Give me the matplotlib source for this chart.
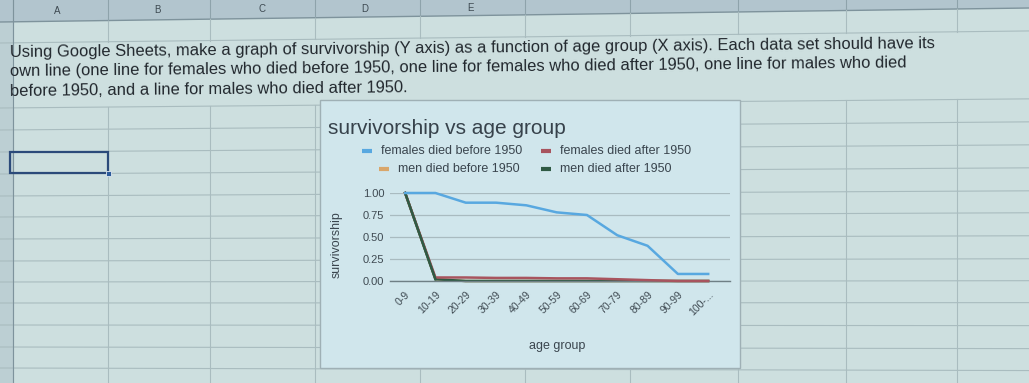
import matplotlib
matplotlib.use("Agg")
import matplotlib.pyplot as plt
from matplotlib.patches import Rectangle, Polygon
import numpy as np

# ---------------- data ----------------
age_groups = ["0-9", "10-19", "20-29", "30-39", "40-49", "50-59",
              "60-69", "70-79", "80-89", "90-99", "100-..."]
females_before_1950 = [1.0, 1.0, 0.89, 0.89, 0.86, 0.78, 0.75, 0.52, 0.40, 0.08, 0.08]
females_after_1950 = [1.0, 0.04, 0.04, 0.035, 0.035, 0.03, 0.03, 0.02, 0.01, 0.0, 0.0]
men_before_1950 = [1.0, 0.02, 0.0, 0.0, 0.0, 0.0, 0.0, 0.0, 0.0, 0.0, 0.0]
men_after_1950 = [1.0, 0.02, 0.0, 0.0, 0.0, 0.0, 0.0, 0.0, 0.0, 0.0, 0.0]
y_ticks = [0.0, 0.25, 0.5, 0.75, 1.0]
series_names = ["females died before 1950", "females died after 1950",
                "men died before 1950", "men died after 1950"]
col_letters = ["A", "B", "C", "D", "E"]
instruction = ["Using Google Sheets, make a graph of survivorship (Y axis) as a function of age group (X axis). Each data set should have its",
               "own line (one line for females who died before 1950, one line for females who died after 1950, one line for males who died",
               "before 1950, and a line for males who died after 1950."]

colors = {"fb": "#58a8e0", "fa": "#a8545e", "mb": "#d9a66a", "ma": "#2f5a44"}
sheet_bg = "#cddfdf"
chart_bg = "#d0e6ec"
grid_c = "#a9bcbf"

W, H = 1029, 383
fig = plt.figure(figsize=(W / 100, H / 100), dpi=100)
fig.patch.set_facecolor(sheet_bg)
plt.rcParams['font.family'] = ['Liberation Sans', 'DejaVu Sans']

# ---------------- spreadsheet background ----------------
bg = fig.add_axes([0, 0, 1, 1])
bg.set_xlim(0, W)
bg.set_ylim(H, 0)
bg.axis("off")
bg.set_facecolor(sheet_bg)


def tilt(y):
    return 14 - 0.045 * y


bg.add_patch(Polygon([(0, 0), (W, 0), (W, 8), (0, 22)], closed=True,
                     facecolor="#b2c5ce", edgecolor="none", zorder=1))
bg.plot([0, W], [22, 8], color="#7e939c", lw=1.0, zorder=2)
bg.add_patch(Rectangle((0, 22), 13, H, facecolor="#bccfd3", edgecolor="none", zorder=1))

col_lines = [13, 108, 210, 315, 420, 525, 630, 738, 846, 957]
row_lines = [43, 108, 130, 152, 174, 196, 217, 239, 261, 282, 303, 325, 347, 368]
for y in row_lines:
    bg.plot([0, W], [y, y - tilt(y)], color=grid_c, lw=0.8, zorder=2)
for x in col_lines:
    bg.plot([x, x], [0, 22 - 14 * x / W], color="#8ea3ab", lw=0.8, zorder=2)
    bg.plot([x, x], [22 - 14 * x / W, 43 - tilt(43) * x / W], color=grid_c, lw=0.8, zorder=2)
    bg.plot([x, x], [108 - tilt(108) * x / W, H], color=grid_c, lw=0.8, zorder=2)
bg.plot([13, 13], [0, H], color="#7e939c", lw=0.8, zorder=2)

letter_x = [57, 157, 262, 365, 470]
for lx, letter in zip(letter_x, col_letters):
    bg.text(lx, 11 - 14 * lx / W * 0.5, letter, ha="center", va="center",
            fontsize=7, color="#3e4a52", zorder=3)

# instruction text (one multi-line block, slightly tilted like the photo)
bg.text(10, 72, "\n".join(instruction), ha="left", va="center", fontsize=11.9,
        linespacing=1.36, color="#22282e", rotation=0.55, rotation_mode="anchor",
        zorder=3)

# selected cell
bg.add_patch(Rectangle((10, 152), 98, 21, facecolor="none", edgecolor="#2b4a7a",
                       lw=1.6, zorder=4))
bg.add_patch(Rectangle((105.5, 170.5), 5, 5, facecolor="#2b5a9a", edgecolor="#dfe8f0",
                       lw=0.6, zorder=5))

# chart box
bg.add_patch(Rectangle((320, 100), 420, 268, facecolor=chart_bg, edgecolor="#9fb0b5",
                       lw=1.0, zorder=3))

# title
bg.text(328, 128, "survivorship vs age group", ha="left", va="center",
        fontsize=15, color="#37424b", zorder=5)

# legend (drawn manually to mimic the centred rows)
legend_items = [
    (367, 151, colors["fb"], series_names[0]),
    (546, 151, colors["fa"], series_names[1]),
    (384, 169, colors["mb"], series_names[2]),
    (546, 169, colors["ma"], series_names[3]),
]
for lx, ly, c, name in legend_items:
    bg.plot([lx - 5, lx + 5], [ly, ly], color=c, lw=3, solid_capstyle="butt", zorder=5)
    bg.text(lx + 14, ly, name, ha="left", va="center", fontsize=9.0,
            color="#3a454e", zorder=5)

# axis titles
bg.text(337, 245, "survivorship", rotation=90, ha="center", va="center",
        fontsize=8.9, color="#3a454e", zorder=5)
bg.text(557, 346, "age group", ha="center", va="center",
        fontsize=9, color="#3a454e", zorder=5)

# ---------------- chart ----------------
left, right = 390, 730
top, bottom = 193, 281
ax = fig.add_axes([left / W, (H - bottom) / H, (right - left) / W, (bottom - top) / H])
ax.set_facecolor("none")
ax.set_zorder(6)
x = np.arange(len(age_groups))
ax.set_xlim(-0.5, 10.72)
ax.set_ylim(0, 1)
ax.set_yticks(y_ticks)
ax.set_yticklabels([f"{v:.2f}" for v in y_ticks])
ax.grid(axis="y", color="#a9bbc0", lw=0.9)
ax.set_axisbelow(True)
for s in ["top", "right", "left"]:
    ax.spines[s].set_visible(False)
ax.spines["bottom"].set_color("#6f7f85")
ax.spines["bottom"].set_linewidth(1.0)
ax.tick_params(axis="both", length=0, labelsize=8, colors="#3f4a52", pad=4)
ax.set_xticks(x)
ax.set_xticklabels(age_groups, rotation=45, ha="right", va="top",
                   rotation_mode="anchor", fontsize=7.6)
ax.tick_params(axis="x", pad=6)

ax.plot(x, females_before_1950, color=colors["fb"], lw=1.8, clip_on=False, zorder=3)
ax.plot(x, men_before_1950, color=colors["mb"], lw=1.8, clip_on=False, zorder=2)
ax.plot(x, men_after_1950, color=colors["ma"], lw=1.8, clip_on=False, zorder=2.5)
ax.plot(x, females_after_1950, color=colors["fa"], lw=1.8, clip_on=False, zorder=2.6)
ax.plot(x[:2], men_after_1950[:2], color=colors["ma"], lw=1.8, clip_on=False, zorder=2.7)

fig.savefig("out.png", dpi=100, facecolor=fig.get_facecolor())
